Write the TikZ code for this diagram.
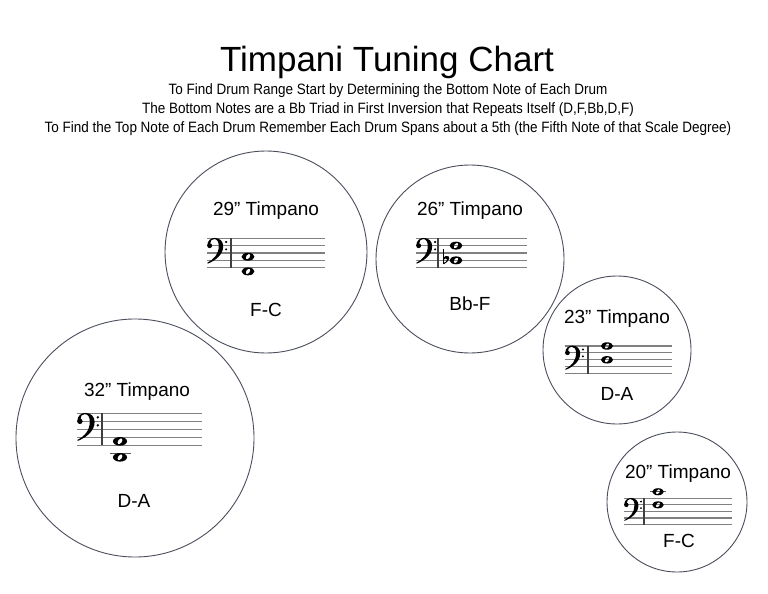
\documentclass[tikz,border=0pt]{standalone}
\usepackage{graphicx}
\usepackage{fontspec}
\setmainfont{Liberation Sans}
\definecolor{circ}{HTML}{4A4F5C}
\newcommand\tpstaff[4]{%
  \foreach \k in {0,...,4} {\draw[staffline] (#1,#3+\k*#4) -- (#2,#3+\k*#4);}%
}
\newcommand\subtxt[1]{\scalebox{0.9}[1]{#1}}
\begin{document}
\begin{tikzpicture}[x=1pt,y=-1pt,
  drum/.style={circle, draw=circ, line width=0.9pt, inner sep=0pt, outer sep=0pt},
  lbl/.style={font=\fontsize{19}{22}\selectfont, anchor=base, inner sep=0pt},
  sub/.style={font=\fontsize{15}{18}\selectfont, anchor=base, inner sep=0pt},
  ttl/.style={font=\fontsize{35}{40}\selectfont, anchor=base, inner sep=0pt},
  staffline/.style={draw=black!50, line width=1.1pt},
  barl/.style={draw=black!75, line width=1.1pt},
  ledger/.style={draw=black!65, line width=1.1pt},
  clef/.pic={
    \fill (0.36,0) circle [radius=0.34];
    \fill (0.05,0.05) .. controls (0.0,-0.75) and (0.6,-1.05) .. (1.05,-1.05)
      .. controls (1.8,-1.05) and (2.2,-0.55) .. (2.2,0.1)
      .. controls (2.2,1.25) and (1.1,2.05) .. (0.1,2.45)
      -- (0.05,2.33)
      .. controls (0.95,1.85) and (1.6,1.15) .. (1.6,0.05)
      .. controls (1.6,-0.55) and (1.38,-0.9) .. (0.95,-0.9)
      .. controls (0.62,-0.9) and (0.4,-0.6) .. (0.45,-0.3) -- cycle;
    \fill (2.6,-0.5) circle [radius=0.16];
    \fill (2.6,0.5) circle [radius=0.16];
  },
  wnote/.pic={
    \fill[even odd rule] (0,0) ellipse [x radius=0.88, y radius=0.54]
      {[rotate=55] (0,0) ellipse [x radius=0.42, y radius=0.25]};
  },
  flatsign/.pic={
    \fill (-0.08,-1.5) rectangle (0.08,0.55);
    \fill (0.0,0.55) .. controls (0.95,0.05) and (1.05,-0.7) .. (0.3,-0.6)
      .. controls (0.15,-0.56) and (0.05,-0.45) .. (0.0,-0.35) -- (0.0,-0.05)
      .. controls (0.15,-0.28) and (0.5,-0.4) .. (0.48,-0.12)
      .. controls (0.45,0.1) and (0.3,0.25) .. (0.0,0.38) -- cycle;
  }
]
\useasboundingbox[fill=white] (0,0) rectangle (768,594);

% title and notes
\node[ttl] (title) at (387,71) {Timpani Tuning Chart};
\node[sub] (s1) at (388,94) {\subtxt{To Find Drum Range Start by Determining the Bottom Note of Each Drum}};
\node[sub] (s2) at (388,113) {\subtxt{The Bottom Notes are a Bb Triad in First Inversion that Repeats Itself (D,F,Bb,D,F)}};
\node[sub] (s3) at (388,132) {\subtxt{To Find the Top Note of Each Drum Remember Each Drum Spans about a 5th (the Fifth Note of that Scale Degree)}};

% drums
\node[drum, minimum size=202pt] (d29) at (266,252) {};
\node[drum, minimum size=188pt] (d26) at (470,259) {};
\node[drum, minimum size=148pt] (d23) at (617,350) {};
\node[drum, minimum size=140pt] (d20) at (677,502) {};
\node[drum, minimum size=238pt] (d32) at (135,438) {};

% labels
\node[lbl] (l29) at (266,215.7) {29” Timpano};
\node[lbl] (r29) at (266,316) {F-C};
\node[lbl] (l26) at (470,215.7) {26” Timpano};
\node[lbl] (r26) at (470,310) {Bb-F};
\node[lbl] (l23) at (617,323.5) {23” Timpano};
\node[lbl] (r23) at (617,400) {D-A};
\node[lbl] (l20) at (678,478.5) {20” Timpano};
\node[lbl] (r20) at (679,547) {F-C};
\node[lbl] (l32) at (137,396.5) {32” Timpano};
\node[lbl] (r32) at (134,507) {D-A};

% 29" staff: F-C
\tpstaff{207}{325}{238.3}{7.35}
\draw[barl] (231,238.3) -- (231,267.7);
\pic[scale=7.35] at (207,245.65) {clef};
\pic[scale=7.35] at (248,256.7) {wnote};
\pic[scale=7.35] at (248,271.4) {wnote};

% 26" staff: Bb-F
\tpstaff{416}{527}{238.3}{7.35}
\draw[barl] (438,238.3) -- (438,267.7);
\pic[scale=7.35] at (416,245.65) {clef};
\pic[scale=7.35] at (443.5,260.35) {flatsign};
\pic[scale=7.35] at (456,245.65) {wnote};
\pic[scale=7.35] at (456,260.35) {wnote};

% 23" staff: D-A
\tpstaff{565}{672}{346}{6.9}
\draw[barl] (588,346) -- (588,373.6);
\pic[scale=6.9] at (565,352.9) {clef};
\pic[scale=6.9] at (607,346) {wnote};
\pic[scale=6.9] at (607,359.8) {wnote};

% 20" staff: F-C
\tpstaff{624}{732}{498.3}{6.55}
\draw[barl] (644,498.3) -- (644,524.5);
\draw[ledger] (650,491.75) -- (666,491.75);
\pic[scale=6.55] at (624,504.85) {clef};
\pic[scale=6.55] at (658,491.75) {wnote};
\pic[scale=6.55] at (658,504.85) {wnote};

% 32" staff: D-A
\tpstaff{77}{202}{413.3}{8}
\draw[barl] (102,413.3) -- (102,445.3);
\draw[ledger] (110,453.3) -- (131,453.3);
\pic[scale=8] at (77,421.3) {clef};
\pic[scale=8] at (120,441.3) {wnote};
\pic[scale=8] at (120,457.3) {wnote};
\end{tikzpicture}
\end{document}
